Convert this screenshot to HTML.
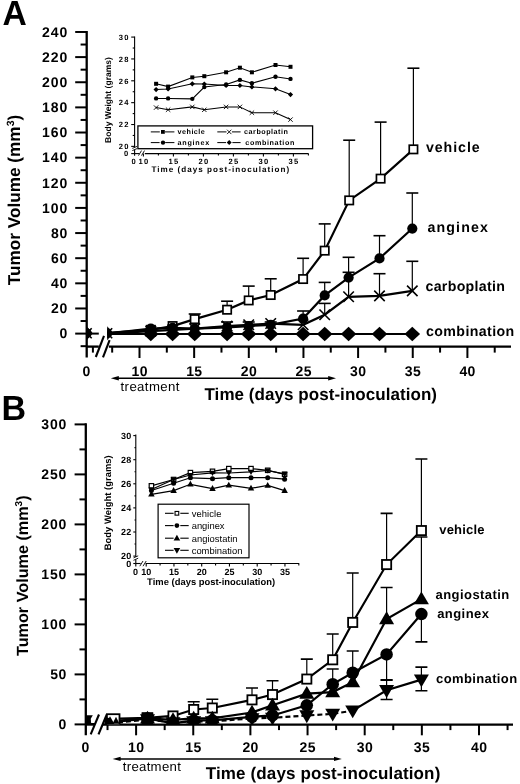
<!DOCTYPE html>
<html><head><meta charset="utf-8"><title>Tumor volume figure</title><style>html,body{margin:0;padding:0;background:#fff;}svg{display:block;}</style></head><body>
<svg width="520" height="784" viewBox="0 0 520 784" font-family="&quot;Liberation Sans&quot;, Arial, Helvetica, sans-serif" stroke="#000" stroke-linecap="butt" text-rendering="geometricPrecision">
<style>text{stroke:none;fill:#000}</style>
<defs>
<clipPath id="cA0"><rect x="86.7" y="300" width="12" height="50"/></clipPath>
<clipPath id="cA7"><rect x="107.2" y="300" width="20" height="50"/></clipPath>
<clipPath id="cB0"><rect x="85.8" y="700" width="10" height="24.6"/></clipPath>
<clipPath id="cB7"><rect x="104.5" y="690" width="20" height="34.6"/></clipPath>
<clipPath id="cBplot"><rect x="85.8" y="400" width="434" height="324.6"/></clipPath>
</defs>
<rect width="520" height="784" fill="#fff" stroke="none"/>
<text x="2.6" y="25.4" font-size="35" font-weight="bold" textLength="24.3" lengthAdjust="spacingAndGlyphs">A</text>
<line x1="86.7" y1="31" x2="86.7" y2="357.6" stroke-width="2.3"/>
<line x1="75.2" y1="333.6" x2="86.7" y2="333.6" stroke-width="2"/>
<text x="67.2" y="338.4" font-size="14" font-weight="bold" text-anchor="end">0</text>
<line x1="75.2" y1="308.46" x2="86.7" y2="308.46" stroke-width="2"/>
<text x="67.2" y="313.26" font-size="14" font-weight="bold" text-anchor="end" textLength="16.1" lengthAdjust="spacing">20</text>
<line x1="75.2" y1="283.33" x2="86.7" y2="283.33" stroke-width="2"/>
<text x="67.2" y="288.13" font-size="14" font-weight="bold" text-anchor="end" textLength="16.1" lengthAdjust="spacing">40</text>
<line x1="75.2" y1="258.19" x2="86.7" y2="258.19" stroke-width="2"/>
<text x="67.2" y="262.99" font-size="14" font-weight="bold" text-anchor="end" textLength="16.1" lengthAdjust="spacing">60</text>
<line x1="75.2" y1="233.06" x2="86.7" y2="233.06" stroke-width="2"/>
<text x="67.2" y="237.86" font-size="14" font-weight="bold" text-anchor="end" textLength="16.1" lengthAdjust="spacing">80</text>
<line x1="75.2" y1="207.92" x2="86.7" y2="207.92" stroke-width="2"/>
<text x="67.2" y="212.72" font-size="14" font-weight="bold" text-anchor="end" textLength="25.1" lengthAdjust="spacing">100</text>
<line x1="75.2" y1="182.78" x2="86.7" y2="182.78" stroke-width="2"/>
<text x="67.2" y="187.58" font-size="14" font-weight="bold" text-anchor="end" textLength="25.1" lengthAdjust="spacing">120</text>
<line x1="75.2" y1="157.65" x2="86.7" y2="157.65" stroke-width="2"/>
<text x="67.2" y="162.45" font-size="14" font-weight="bold" text-anchor="end" textLength="25.1" lengthAdjust="spacing">140</text>
<line x1="75.2" y1="132.51" x2="86.7" y2="132.51" stroke-width="2"/>
<text x="67.2" y="137.31" font-size="14" font-weight="bold" text-anchor="end" textLength="25.1" lengthAdjust="spacing">160</text>
<line x1="75.2" y1="107.38" x2="86.7" y2="107.38" stroke-width="2"/>
<text x="67.2" y="112.18" font-size="14" font-weight="bold" text-anchor="end" textLength="25.1" lengthAdjust="spacing">180</text>
<line x1="75.2" y1="82.24" x2="86.7" y2="82.24" stroke-width="2"/>
<text x="67.2" y="87.04" font-size="14" font-weight="bold" text-anchor="end" textLength="25.1" lengthAdjust="spacing">200</text>
<line x1="75.2" y1="57.1" x2="86.7" y2="57.1" stroke-width="2"/>
<text x="67.2" y="61.9" font-size="14" font-weight="bold" text-anchor="end" textLength="25.1" lengthAdjust="spacing">220</text>
<line x1="75.2" y1="31.97" x2="86.7" y2="31.97" stroke-width="2"/>
<text x="67.2" y="36.77" font-size="14" font-weight="bold" text-anchor="end" textLength="25.1" lengthAdjust="spacing">240</text>
<line x1="80.6" y1="346.17" x2="86.7" y2="346.17" stroke-width="2"/>
<line x1="80.6" y1="321.03" x2="86.7" y2="321.03" stroke-width="2"/>
<line x1="80.6" y1="295.9" x2="86.7" y2="295.9" stroke-width="2"/>
<line x1="80.6" y1="270.76" x2="86.7" y2="270.76" stroke-width="2"/>
<line x1="80.6" y1="245.62" x2="86.7" y2="245.62" stroke-width="2"/>
<line x1="80.6" y1="220.49" x2="86.7" y2="220.49" stroke-width="2"/>
<line x1="80.6" y1="195.35" x2="86.7" y2="195.35" stroke-width="2"/>
<line x1="80.6" y1="170.22" x2="86.7" y2="170.22" stroke-width="2"/>
<line x1="80.6" y1="145.08" x2="86.7" y2="145.08" stroke-width="2"/>
<line x1="80.6" y1="119.94" x2="86.7" y2="119.94" stroke-width="2"/>
<line x1="80.6" y1="94.81" x2="86.7" y2="94.81" stroke-width="2"/>
<line x1="80.6" y1="69.67" x2="86.7" y2="69.67" stroke-width="2"/>
<line x1="80.6" y1="44.54" x2="86.7" y2="44.54" stroke-width="2"/>
<line x1="86.7" y1="346.6" x2="98.8" y2="346.6" stroke-width="2.3"/>
<line x1="108.9" y1="346.6" x2="511" y2="346.6" stroke-width="2.3"/>
<line x1="139.5" y1="346.6" x2="139.5" y2="358" stroke-width="2"/>
<text x="139.5" y="376.3" font-size="14" font-weight="bold" text-anchor="middle" textLength="16" lengthAdjust="spacing">10</text>
<line x1="194.15" y1="346.6" x2="194.15" y2="358" stroke-width="2"/>
<text x="194.15" y="376.3" font-size="14" font-weight="bold" text-anchor="middle" textLength="16" lengthAdjust="spacing">15</text>
<line x1="248.8" y1="346.6" x2="248.8" y2="358" stroke-width="2"/>
<text x="248.8" y="376.3" font-size="14" font-weight="bold" text-anchor="middle" textLength="16" lengthAdjust="spacing">20</text>
<line x1="303.45" y1="346.6" x2="303.45" y2="358" stroke-width="2"/>
<text x="303.45" y="376.3" font-size="14" font-weight="bold" text-anchor="middle" textLength="16" lengthAdjust="spacing">25</text>
<line x1="358.1" y1="346.6" x2="358.1" y2="358" stroke-width="2"/>
<text x="358.1" y="376.3" font-size="14" font-weight="bold" text-anchor="middle" textLength="16" lengthAdjust="spacing">30</text>
<line x1="412.75" y1="346.6" x2="412.75" y2="358" stroke-width="2"/>
<text x="412.75" y="376.3" font-size="14" font-weight="bold" text-anchor="middle" textLength="16" lengthAdjust="spacing">35</text>
<line x1="467.4" y1="346.6" x2="467.4" y2="358" stroke-width="2"/>
<text x="467.4" y="376.3" font-size="14" font-weight="bold" text-anchor="middle" textLength="16" lengthAdjust="spacing">40</text>
<text x="86.3" y="376.3" font-size="14" font-weight="bold" text-anchor="middle">0</text>
<line x1="112.17" y1="346.6" x2="112.17" y2="352.6" stroke-width="2"/>
<line x1="166.82" y1="346.6" x2="166.82" y2="352.6" stroke-width="2"/>
<line x1="221.47" y1="346.6" x2="221.47" y2="352.6" stroke-width="2"/>
<line x1="276.12" y1="346.6" x2="276.12" y2="352.6" stroke-width="2"/>
<line x1="330.77" y1="346.6" x2="330.77" y2="352.6" stroke-width="2"/>
<line x1="385.42" y1="346.6" x2="385.42" y2="352.6" stroke-width="2"/>
<line x1="440.07" y1="346.6" x2="440.07" y2="352.6" stroke-width="2"/>
<line x1="494.72" y1="346.6" x2="494.72" y2="352.6" stroke-width="2"/>
<line x1="92.9" y1="346.6" x2="92.9" y2="352.6" stroke-width="2"/>
<line x1="95.8" y1="357" x2="104" y2="335.8" stroke-width="2.1"/>
<line x1="103" y1="357.3" x2="109.6" y2="340.2" stroke-width="2.1"/>
<line x1="116" y1="378.2" x2="331" y2="378.2" stroke-width="1.6"/>
<polygon points="110.8,378.2 118.8,376 118.8,380.4" fill="#000" stroke="none"/>
<polygon points="336,378.2 328.2,376 328.2,380.4" fill="#000" stroke="none"/>
<text x="120.5" y="391.3" font-size="13.2" font-weight="normal" textLength="59" lengthAdjust="spacing">treatment</text>
<text x="204.5" y="400" font-size="17" font-weight="bold" textLength="232.5" lengthAdjust="spacing">Time (days post-inoculation)</text>
<text transform="translate(20.4,285.2) rotate(-90)" font-size="17.2" font-weight="bold">Tumor Volume (mm<tspan font-size="10.5" dy="-6.5">3</tspan><tspan dy="6.5">)</tspan></text>
<line x1="194.7" y1="319.15" x2="194.7" y2="314" stroke-width="1.2"/>
<line x1="188.7" y1="314" x2="200.7" y2="314" stroke-width="1.6"/>
<line x1="227.1" y1="309.72" x2="227.1" y2="301.2" stroke-width="1.2"/>
<line x1="221.1" y1="301.2" x2="233.1" y2="301.2" stroke-width="1.6"/>
<line x1="227.1" y1="326.06" x2="227.1" y2="322" stroke-width="1.2"/>
<line x1="221.1" y1="322" x2="233.1" y2="322" stroke-width="1.6"/>
<line x1="248.7" y1="300.42" x2="248.7" y2="286.1" stroke-width="1.2"/>
<line x1="242.7" y1="286.1" x2="254.7" y2="286.1" stroke-width="1.6"/>
<line x1="248.7" y1="324.8" x2="248.7" y2="322" stroke-width="1.2"/>
<line x1="242.7" y1="322" x2="254.7" y2="322" stroke-width="1.6"/>
<line x1="270.7" y1="295.02" x2="270.7" y2="278.8" stroke-width="1.2"/>
<line x1="264.7" y1="278.8" x2="276.7" y2="278.8" stroke-width="1.6"/>
<line x1="270.7" y1="323.55" x2="270.7" y2="322" stroke-width="1.2"/>
<line x1="264.7" y1="322" x2="276.7" y2="322" stroke-width="1.6"/>
<line x1="303.1" y1="279.05" x2="303.1" y2="258.3" stroke-width="1.2"/>
<line x1="297.1" y1="258.3" x2="309.1" y2="258.3" stroke-width="1.6"/>
<line x1="303.1" y1="318.52" x2="303.1" y2="311" stroke-width="1.2"/>
<line x1="297.1" y1="311" x2="309.1" y2="311" stroke-width="1.6"/>
<line x1="324.7" y1="250.65" x2="324.7" y2="223.9" stroke-width="1.2"/>
<line x1="318.7" y1="223.9" x2="330.7" y2="223.9" stroke-width="1.6"/>
<line x1="324.7" y1="295.39" x2="324.7" y2="282.4" stroke-width="1.2"/>
<line x1="318.7" y1="282.4" x2="330.7" y2="282.4" stroke-width="1.6"/>
<line x1="324.7" y1="314.75" x2="324.7" y2="303.4" stroke-width="1.2"/>
<line x1="318.7" y1="303.4" x2="330.7" y2="303.4" stroke-width="1.6"/>
<line x1="349.2" y1="200.38" x2="349.2" y2="140.2" stroke-width="1.2"/>
<line x1="343.2" y1="140.2" x2="355.2" y2="140.2" stroke-width="1.6"/>
<line x1="348.6" y1="277.55" x2="348.6" y2="257.3" stroke-width="1.2"/>
<line x1="342.6" y1="257.3" x2="354.6" y2="257.3" stroke-width="1.6"/>
<line x1="348.6" y1="296.78" x2="348.6" y2="272.3" stroke-width="1.2"/>
<line x1="342.6" y1="272.3" x2="354.6" y2="272.3" stroke-width="1.6"/>
<line x1="380.6" y1="178.64" x2="380.6" y2="122.1" stroke-width="1.2"/>
<line x1="374.6" y1="122.1" x2="386.6" y2="122.1" stroke-width="1.6"/>
<line x1="379.5" y1="258.44" x2="379.5" y2="235.7" stroke-width="1.2"/>
<line x1="373.5" y1="235.7" x2="385.5" y2="235.7" stroke-width="1.6"/>
<line x1="379.5" y1="295.9" x2="379.5" y2="273.7" stroke-width="1.2"/>
<line x1="373.5" y1="273.7" x2="385.5" y2="273.7" stroke-width="1.6"/>
<line x1="413.4" y1="149.35" x2="413.4" y2="68.2" stroke-width="1.2"/>
<line x1="407.4" y1="68.2" x2="419.4" y2="68.2" stroke-width="1.6"/>
<line x1="412.3" y1="228.53" x2="412.3" y2="193" stroke-width="1.2"/>
<line x1="406.3" y1="193" x2="418.3" y2="193" stroke-width="1.6"/>
<line x1="412.3" y1="290.87" x2="412.3" y2="261.3" stroke-width="1.2"/>
<line x1="406.3" y1="261.3" x2="418.3" y2="261.3" stroke-width="1.6"/>
<line x1="86.7" y1="333.6" x2="98.8" y2="333.6" stroke-width="2"/>
<polyline points="107.2,332.97 150.8,329.83 172.6,326.06 194.7,319.15 227.1,309.72 248.7,300.42 270.7,295.02 303.1,279.05 324.7,250.65 349.2,200.38 380.6,178.64 413.4,149.35" fill="none" stroke-width="2.2"/>
<rect x="146.65" y="325.68" width="8.3" height="8.3" fill="#fff" stroke-width="1.7"/>
<rect x="168.45" y="321.91" width="8.3" height="8.3" fill="#fff" stroke-width="1.7"/>
<rect x="190.55" y="315" width="8.3" height="8.3" fill="#fff" stroke-width="1.7"/>
<rect x="222.95" y="305.57" width="8.3" height="8.3" fill="#fff" stroke-width="1.7"/>
<rect x="244.55" y="296.27" width="8.3" height="8.3" fill="#fff" stroke-width="1.7"/>
<rect x="266.55" y="290.87" width="8.3" height="8.3" fill="#fff" stroke-width="1.7"/>
<rect x="298.95" y="274.9" width="8.3" height="8.3" fill="#fff" stroke-width="1.7"/>
<rect x="320.55" y="246.5" width="8.3" height="8.3" fill="#fff" stroke-width="1.7"/>
<rect x="345.05" y="196.23" width="8.3" height="8.3" fill="#fff" stroke-width="1.7"/>
<rect x="376.45" y="174.49" width="8.3" height="8.3" fill="#fff" stroke-width="1.7"/>
<rect x="409.25" y="145.2" width="8.3" height="8.3" fill="#fff" stroke-width="1.7"/>
<polyline points="107.2,333.6 150.8,328.57 172.6,327.94 194.7,328.57 227.1,327.32 248.7,326.06 270.7,324.8 303.1,318.52 324.7,295.39 348.6,277.55 379.5,258.44 412.3,228.53" fill="none" stroke-width="2.2"/>
<circle cx="150.8" cy="328.57" r="5.1" fill="#000" stroke="none"/>
<circle cx="172.6" cy="327.94" r="5.1" fill="#000" stroke="none"/>
<circle cx="194.7" cy="328.57" r="5.1" fill="#000" stroke="none"/>
<circle cx="227.1" cy="327.32" r="5.1" fill="#000" stroke="none"/>
<circle cx="248.7" cy="326.06" r="5.1" fill="#000" stroke="none"/>
<circle cx="270.7" cy="324.8" r="5.1" fill="#000" stroke="none"/>
<circle cx="303.1" cy="318.52" r="5.1" fill="#000" stroke="none"/>
<circle cx="324.7" cy="295.39" r="5.1" fill="#000" stroke="none"/>
<circle cx="348.6" cy="277.55" r="5.1" fill="#000" stroke="none"/>
<circle cx="379.5" cy="258.44" r="5.1" fill="#000" stroke="none"/>
<circle cx="412.3" cy="228.53" r="5.1" fill="#000" stroke="none"/>
<polyline points="107.2,333.6 150.8,331.09 172.6,329.83 194.7,328.57 227.1,326.06 248.7,324.8 270.7,323.55 303.1,324.8 324.7,314.75 348.6,296.78 379.5,295.9 412.3,290.87" fill="none" stroke-width="2.2"/>
<path d="M145.55,325.84L156.05,336.34M145.55,336.34L156.05,325.84" stroke-width="1.6" fill="none"/>
<path d="M167.35,324.58L177.85,335.08M167.35,335.08L177.85,324.58" stroke-width="1.6" fill="none"/>
<path d="M189.45,323.32L199.95,333.82M189.45,333.82L199.95,323.32" stroke-width="1.6" fill="none"/>
<path d="M221.85,320.81L232.35,331.31M221.85,331.31L232.35,320.81" stroke-width="1.6" fill="none"/>
<path d="M243.45,319.55L253.95,330.05M243.45,330.05L253.95,319.55" stroke-width="1.6" fill="none"/>
<path d="M265.45,318.3L275.95,328.8M265.45,328.8L275.95,318.3" stroke-width="1.6" fill="none"/>
<path d="M297.85,319.55L308.35,330.05M297.85,330.05L308.35,319.55" stroke-width="1.6" fill="none"/>
<path d="M319.45,309.5L329.95,320M319.45,320L329.95,309.5" stroke-width="1.6" fill="none"/>
<path d="M343.35,291.53L353.85,302.03M343.35,302.03L353.85,291.53" stroke-width="1.6" fill="none"/>
<path d="M374.25,290.65L384.75,301.15M374.25,301.15L384.75,290.65" stroke-width="1.6" fill="none"/>
<path d="M407.05,285.62L417.55,296.12M407.05,296.12L417.55,285.62" stroke-width="1.6" fill="none"/>
<polyline points="107.2,333.98 150.8,333.98 172.6,333.98 194.7,333.98 227.1,333.98 248.7,333.98 270.7,333.98 303.1,333.98 324.7,333.98 348.6,333.98 379.5,333.98 412.3,333.98" fill="none" stroke-width="2.2"/>
<polygon points="150.8,326.73 158.55,333.98 150.8,341.23 143.05,333.98" fill="#000" stroke="none"/>
<polygon points="172.6,326.73 180.35,333.98 172.6,341.23 164.85,333.98" fill="#000" stroke="none"/>
<polygon points="194.7,326.73 202.45,333.98 194.7,341.23 186.95,333.98" fill="#000" stroke="none"/>
<polygon points="227.1,326.73 234.85,333.98 227.1,341.23 219.35,333.98" fill="#000" stroke="none"/>
<polygon points="248.7,326.73 256.45,333.98 248.7,341.23 240.95,333.98" fill="#000" stroke="none"/>
<polygon points="270.7,326.73 278.45,333.98 270.7,341.23 262.95,333.98" fill="#000" stroke="none"/>
<polygon points="303.1,326.73 310.85,333.98 303.1,341.23 295.35,333.98" fill="#000" stroke="none"/>
<polygon points="324.7,326.73 332.45,333.98 324.7,341.23 316.95,333.98" fill="#000" stroke="none"/>
<polygon points="348.6,326.73 356.35,333.98 348.6,341.23 340.85,333.98" fill="#000" stroke="none"/>
<polygon points="379.5,326.73 387.25,333.98 379.5,341.23 371.75,333.98" fill="#000" stroke="none"/>
<polygon points="412.3,326.73 420.05,333.98 412.3,341.23 404.55,333.98" fill="#000" stroke="none"/>
<g clip-path="url(#cA0)">
<polygon points="86.7,326.22 92.7,333.22 86.7,340.22 80.7,333.22" fill="#000" stroke="none"/>
<circle cx="86.7" cy="333.22" r="5" fill="#000" stroke="none"/>
<path d="M81.7,328.22L91.7,338.22M81.7,338.22L91.7,328.22" stroke-width="1.6" fill="none"/>
</g>
<g clip-path="url(#cA7)">
<polygon points="107.2,326.22 113.2,333.22 107.2,340.22 101.2,333.22" fill="#000" stroke="none"/>
<circle cx="107.2" cy="333.22" r="5" fill="#000" stroke="none"/>
<path d="M102.2,328.22L112.2,338.22M102.2,338.22L112.2,328.22" stroke-width="1.6" fill="none"/>
</g>
<text x="425.9" y="152.2" font-size="14.2" font-weight="bold" textLength="53.8" lengthAdjust="spacing">vehicle</text>
<text x="427.6" y="231.6" font-size="14.2" font-weight="bold" textLength="60.2" lengthAdjust="spacing">anginex</text>
<text x="425.5" y="291.4" font-size="14.2" font-weight="bold" textLength="79.4" lengthAdjust="spacing">carboplatin</text>
<text x="426" y="335.8" font-size="14.2" font-weight="bold" textLength="88.2" lengthAdjust="spacing">combination</text>
<line x1="134.6" y1="36.5" x2="134.6" y2="147.3" stroke-width="1.1"/>
<line x1="134.6" y1="149.8" x2="134.6" y2="155.8" stroke-width="1.1"/>
<line x1="131.2" y1="146.38" x2="134.6" y2="146.38" stroke-width="1.1"/>
<text x="128.6" y="149.08" font-size="7.6" font-weight="bold" text-anchor="end" textLength="9.8" lengthAdjust="spacing">20</text>
<line x1="131.2" y1="124.52" x2="134.6" y2="124.52" stroke-width="1.1"/>
<text x="128.6" y="127.22" font-size="7.6" font-weight="bold" text-anchor="end" textLength="9.8" lengthAdjust="spacing">22</text>
<line x1="131.2" y1="102.66" x2="134.6" y2="102.66" stroke-width="1.1"/>
<text x="128.6" y="105.36" font-size="7.6" font-weight="bold" text-anchor="end" textLength="9.8" lengthAdjust="spacing">24</text>
<line x1="131.2" y1="80.8" x2="134.6" y2="80.8" stroke-width="1.1"/>
<text x="128.6" y="83.5" font-size="7.6" font-weight="bold" text-anchor="end" textLength="9.8" lengthAdjust="spacing">26</text>
<line x1="131.2" y1="58.94" x2="134.6" y2="58.94" stroke-width="1.1"/>
<text x="128.6" y="61.64" font-size="7.6" font-weight="bold" text-anchor="end" textLength="9.8" lengthAdjust="spacing">28</text>
<line x1="131.2" y1="37.08" x2="134.6" y2="37.08" stroke-width="1.1"/>
<text x="128.6" y="39.78" font-size="7.6" font-weight="bold" text-anchor="end" textLength="9.8" lengthAdjust="spacing">30</text>
<line x1="132.7" y1="135.45" x2="134.6" y2="135.45" stroke-width="1.1"/>
<line x1="132.7" y1="113.59" x2="134.6" y2="113.59" stroke-width="1.1"/>
<line x1="132.7" y1="91.73" x2="134.6" y2="91.73" stroke-width="1.1"/>
<line x1="132.7" y1="69.87" x2="134.6" y2="69.87" stroke-width="1.1"/>
<line x1="132.7" y1="48.01" x2="134.6" y2="48.01" stroke-width="1.1"/>
<line x1="132.3" y1="148.4" x2="137" y2="146.4" stroke-width="0.9"/>
<line x1="132.3" y1="150.6" x2="137" y2="148.6" stroke-width="0.9"/>
<line x1="131.2" y1="153.6" x2="134.6" y2="153.6" stroke-width="1.1"/>
<text x="128.2" y="156.3" font-size="7.6" font-weight="bold" text-anchor="end">0</text>
<line x1="134.6" y1="153.6" x2="139.5" y2="153.6" stroke-width="1.1"/>
<line x1="144.8" y1="153.6" x2="308.5" y2="153.6" stroke-width="1.1"/>
<line x1="138.5" y1="155.6" x2="141.5" y2="150.6" stroke-width="0.9"/>
<line x1="141.5" y1="155.6" x2="144.5" y2="150.6" stroke-width="0.9"/>
<line x1="143.4" y1="153.6" x2="143.4" y2="156.6" stroke-width="1.1"/>
<line x1="173.4" y1="153.6" x2="173.4" y2="156.6" stroke-width="1.1"/>
<line x1="203.4" y1="153.6" x2="203.4" y2="156.6" stroke-width="1.1"/>
<line x1="233.4" y1="153.6" x2="233.4" y2="156.6" stroke-width="1.1"/>
<line x1="263.4" y1="153.6" x2="263.4" y2="156.6" stroke-width="1.1"/>
<line x1="293.4" y1="153.6" x2="293.4" y2="156.6" stroke-width="1.1"/>
<line x1="158.4" y1="153.6" x2="158.4" y2="155.6" stroke-width="1.1"/>
<line x1="188.4" y1="153.6" x2="188.4" y2="155.6" stroke-width="1.1"/>
<line x1="218.4" y1="153.6" x2="218.4" y2="155.6" stroke-width="1.1"/>
<line x1="248.4" y1="153.6" x2="248.4" y2="155.6" stroke-width="1.1"/>
<line x1="278.4" y1="153.6" x2="278.4" y2="155.6" stroke-width="1.1"/>
<line x1="308.4" y1="153.6" x2="308.4" y2="155.6" stroke-width="1.1"/>
<text x="133.5" y="163.8" font-size="7.6" font-weight="bold" text-anchor="middle">0</text>
<text x="143.4" y="163.8" font-size="7.6" font-weight="bold" text-anchor="middle" textLength="9.8" lengthAdjust="spacing">10</text>
<text x="173.4" y="163.8" font-size="7.6" font-weight="bold" text-anchor="middle" textLength="9.8" lengthAdjust="spacing">15</text>
<text x="203.4" y="163.8" font-size="7.6" font-weight="bold" text-anchor="middle" textLength="9.8" lengthAdjust="spacing">20</text>
<text x="233.4" y="163.8" font-size="7.6" font-weight="bold" text-anchor="middle" textLength="9.8" lengthAdjust="spacing">25</text>
<text x="263.4" y="163.8" font-size="7.6" font-weight="bold" text-anchor="middle" textLength="9.8" lengthAdjust="spacing">30</text>
<text x="293.4" y="163.8" font-size="7.6" font-weight="bold" text-anchor="middle" textLength="9.8" lengthAdjust="spacing">35</text>
<text x="151.4" y="172" font-size="8.1" font-weight="bold" textLength="137.8" lengthAdjust="spacing">Time (days post-inoculation)</text>
<text transform="translate(111.4,142.9) rotate(-90)" font-size="8.5" font-weight="bold" textLength="85.8" lengthAdjust="spacing">Body Weight (grams)</text>
<polyline points="156.1,83.8 168.1,86.6 192.3,77.4 204.3,76.2 226.1,72.3 239.9,67.7 251.9,72.3 275.5,65 290.5,66.8" fill="none" stroke-width="1.05"/>
<polyline points="156.1,89.6 168.1,88.9 192.3,83.8 204.3,84 226.1,85.5 239.9,85.5 251.9,86.9 275.5,88.8 290.5,94.6" fill="none" stroke-width="1.05"/>
<polyline points="156.1,98.4 168.1,98.4 192.3,98.85 204.3,87.1 226.1,84.5 239.9,79.9 251.9,83.2 275.5,76.7 290.5,78.9" fill="none" stroke-width="1.05"/>
<polyline points="156.1,107.6 168.1,109.7 192.3,106.9 204.3,109.8 226.1,106.9 239.9,106.9 251.9,112.7 275.5,112.7 290.5,119.6" fill="none" stroke-width="1.05"/>
<rect x="154.1" y="81.8" width="4" height="4" fill="#000" stroke="none"/>
<rect x="166.1" y="84.6" width="4" height="4" fill="#000" stroke="none"/>
<rect x="190.3" y="75.4" width="4" height="4" fill="#000" stroke="none"/>
<rect x="202.3" y="74.2" width="4" height="4" fill="#000" stroke="none"/>
<rect x="224.1" y="70.3" width="4" height="4" fill="#000" stroke="none"/>
<rect x="237.9" y="65.7" width="4" height="4" fill="#000" stroke="none"/>
<rect x="249.9" y="70.3" width="4" height="4" fill="#000" stroke="none"/>
<rect x="273.5" y="63" width="4" height="4" fill="#000" stroke="none"/>
<rect x="288.5" y="64.8" width="4" height="4" fill="#000" stroke="none"/>
<polygon points="156.1,87 158.7,89.6 156.1,92.2 153.5,89.6" fill="#000" stroke="none"/>
<polygon points="168.1,86.3 170.7,88.9 168.1,91.5 165.5,88.9" fill="#000" stroke="none"/>
<polygon points="192.3,81.2 194.9,83.8 192.3,86.4 189.7,83.8" fill="#000" stroke="none"/>
<polygon points="204.3,81.4 206.9,84 204.3,86.6 201.7,84" fill="#000" stroke="none"/>
<polygon points="226.1,82.9 228.7,85.5 226.1,88.1 223.5,85.5" fill="#000" stroke="none"/>
<polygon points="239.9,82.9 242.5,85.5 239.9,88.1 237.3,85.5" fill="#000" stroke="none"/>
<polygon points="251.9,84.3 254.5,86.9 251.9,89.5 249.3,86.9" fill="#000" stroke="none"/>
<polygon points="275.5,86.2 278.1,88.8 275.5,91.4 272.9,88.8" fill="#000" stroke="none"/>
<polygon points="290.5,92 293.1,94.6 290.5,97.2 287.9,94.6" fill="#000" stroke="none"/>
<circle cx="156.1" cy="98.4" r="2.2" fill="#000" stroke="none"/>
<circle cx="168.1" cy="98.4" r="2.2" fill="#000" stroke="none"/>
<circle cx="192.3" cy="98.85" r="2.2" fill="#000" stroke="none"/>
<circle cx="204.3" cy="87.1" r="2.2" fill="#000" stroke="none"/>
<circle cx="226.1" cy="84.5" r="2.2" fill="#000" stroke="none"/>
<circle cx="239.9" cy="79.9" r="2.2" fill="#000" stroke="none"/>
<circle cx="251.9" cy="83.2" r="2.2" fill="#000" stroke="none"/>
<circle cx="275.5" cy="76.7" r="2.2" fill="#000" stroke="none"/>
<circle cx="290.5" cy="78.9" r="2.2" fill="#000" stroke="none"/>
<path d="M153.9,105.4L158.3,109.8M153.9,109.8L158.3,105.4" stroke-width="0.9" fill="none"/>
<path d="M165.9,107.5L170.3,111.9M165.9,111.9L170.3,107.5" stroke-width="0.9" fill="none"/>
<path d="M190.1,104.7L194.5,109.1M190.1,109.1L194.5,104.7" stroke-width="0.9" fill="none"/>
<path d="M202.1,107.6L206.5,112M202.1,112L206.5,107.6" stroke-width="0.9" fill="none"/>
<path d="M223.9,104.7L228.3,109.1M223.9,109.1L228.3,104.7" stroke-width="0.9" fill="none"/>
<path d="M237.7,104.7L242.1,109.1M237.7,109.1L242.1,104.7" stroke-width="0.9" fill="none"/>
<path d="M249.7,110.5L254.1,114.9M249.7,114.9L254.1,110.5" stroke-width="0.9" fill="none"/>
<path d="M273.3,110.5L277.7,114.9M273.3,114.9L277.7,110.5" stroke-width="0.9" fill="none"/>
<path d="M288.3,117.4L292.7,121.8M288.3,121.8L292.7,117.4" stroke-width="0.9" fill="none"/>
<rect x="137.9" y="125.9" width="174.7" height="22.8" fill="#fff" stroke-width="1.3"/>
<line x1="150.8" y1="131.9" x2="159.8" y2="131.9" stroke-width="1"/>
<line x1="165" y1="131.9" x2="174.4" y2="131.9" stroke-width="1"/>
<rect x="161" y="130" width="3.8" height="3.8" fill="#000" stroke="none"/>
<text x="177.6" y="134.4" font-size="7.2" font-weight="bold" textLength="27.2" lengthAdjust="spacing">vehicle</text>
<line x1="150.8" y1="142.6" x2="159.6" y2="142.6" stroke-width="1"/>
<line x1="165.2" y1="142.6" x2="174.4" y2="142.6" stroke-width="1"/>
<circle cx="163" cy="142.6" r="2.2" fill="#000" stroke="none"/>
<text x="177.6" y="145" font-size="7.2" font-weight="bold" textLength="31.6" lengthAdjust="spacing">anginex</text>
<line x1="217.3" y1="131.9" x2="226.5" y2="131.9" stroke-width="1"/>
<line x1="231.9" y1="131.9" x2="240.6" y2="131.9" stroke-width="1"/>
<path d="M227,129.7L231.4,134.1M227,134.1L231.4,129.7" stroke-width="0.9" fill="none"/>
<text x="244.1" y="134.4" font-size="7.2" font-weight="bold" textLength="43.8" lengthAdjust="spacing">carboplatin</text>
<line x1="217.3" y1="142.6" x2="226" y2="142.6" stroke-width="1"/>
<line x1="232.4" y1="142.6" x2="240.6" y2="142.6" stroke-width="1"/>
<polygon points="229.2,140.1 231.7,142.6 229.2,145.1 226.7,142.6" fill="#000" stroke="none"/>
<text x="245.3" y="145" font-size="7.2" font-weight="bold" textLength="49" lengthAdjust="spacing">combination</text>
<text x="1.4" y="419.6" font-size="35" font-weight="bold" textLength="24.6" lengthAdjust="spacingAndGlyphs">B</text>
<line x1="85.8" y1="423.3" x2="85.8" y2="735.2" stroke-width="2.3"/>
<line x1="74.6" y1="724.4" x2="85.8" y2="724.4" stroke-width="2"/>
<text x="66.4" y="729.2" font-size="14" font-weight="bold" text-anchor="end">0</text>
<line x1="74.6" y1="674.4" x2="85.8" y2="674.4" stroke-width="2"/>
<text x="66.4" y="679.2" font-size="14" font-weight="bold" text-anchor="end" textLength="16.1" lengthAdjust="spacing">50</text>
<line x1="74.6" y1="624.4" x2="85.8" y2="624.4" stroke-width="2"/>
<text x="66.4" y="629.2" font-size="14" font-weight="bold" text-anchor="end" textLength="25.1" lengthAdjust="spacing">100</text>
<line x1="74.6" y1="574.4" x2="85.8" y2="574.4" stroke-width="2"/>
<text x="66.4" y="579.2" font-size="14" font-weight="bold" text-anchor="end" textLength="25.1" lengthAdjust="spacing">150</text>
<line x1="74.6" y1="524.4" x2="85.8" y2="524.4" stroke-width="2"/>
<text x="66.4" y="529.2" font-size="14" font-weight="bold" text-anchor="end" textLength="25.1" lengthAdjust="spacing">200</text>
<line x1="74.6" y1="474.4" x2="85.8" y2="474.4" stroke-width="2"/>
<text x="66.4" y="479.2" font-size="14" font-weight="bold" text-anchor="end" textLength="25.1" lengthAdjust="spacing">250</text>
<line x1="74.6" y1="424.4" x2="85.8" y2="424.4" stroke-width="2"/>
<text x="66.4" y="429.2" font-size="14" font-weight="bold" text-anchor="end" textLength="25.1" lengthAdjust="spacing">300</text>
<line x1="79.5" y1="699.4" x2="85.8" y2="699.4" stroke-width="2"/>
<line x1="79.5" y1="649.4" x2="85.8" y2="649.4" stroke-width="2"/>
<line x1="79.5" y1="599.4" x2="85.8" y2="599.4" stroke-width="2"/>
<line x1="79.5" y1="549.4" x2="85.8" y2="549.4" stroke-width="2"/>
<line x1="79.5" y1="499.4" x2="85.8" y2="499.4" stroke-width="2"/>
<line x1="79.5" y1="449.4" x2="85.8" y2="449.4" stroke-width="2"/>
<line x1="85.8" y1="724.6" x2="94.8" y2="724.6" stroke-width="2.2"/>
<line x1="102.6" y1="724.6" x2="513" y2="724.6" stroke-width="2.2"/>
<line x1="136.1" y1="724.6" x2="136.1" y2="735.3" stroke-width="2"/>
<text x="136.1" y="752.2" font-size="14" font-weight="bold" text-anchor="middle" textLength="16" lengthAdjust="spacing">10</text>
<line x1="193.25" y1="724.6" x2="193.25" y2="735.3" stroke-width="2"/>
<text x="193.25" y="752.2" font-size="14" font-weight="bold" text-anchor="middle" textLength="16" lengthAdjust="spacing">15</text>
<line x1="250.4" y1="724.6" x2="250.4" y2="735.3" stroke-width="2"/>
<text x="250.4" y="752.2" font-size="14" font-weight="bold" text-anchor="middle" textLength="16" lengthAdjust="spacing">20</text>
<line x1="307.55" y1="724.6" x2="307.55" y2="735.3" stroke-width="2"/>
<text x="307.55" y="752.2" font-size="14" font-weight="bold" text-anchor="middle" textLength="16" lengthAdjust="spacing">25</text>
<line x1="364.7" y1="724.6" x2="364.7" y2="735.3" stroke-width="2"/>
<text x="364.7" y="752.2" font-size="14" font-weight="bold" text-anchor="middle" textLength="16" lengthAdjust="spacing">30</text>
<line x1="421.85" y1="724.6" x2="421.85" y2="735.3" stroke-width="2"/>
<text x="421.85" y="752.2" font-size="14" font-weight="bold" text-anchor="middle" textLength="16" lengthAdjust="spacing">35</text>
<line x1="479" y1="724.6" x2="479" y2="735.3" stroke-width="2"/>
<text x="479" y="752.2" font-size="14" font-weight="bold" text-anchor="middle" textLength="16" lengthAdjust="spacing">40</text>
<text x="85.3" y="752.2" font-size="14" font-weight="bold" text-anchor="middle">0</text>
<line x1="107.52" y1="724.6" x2="107.52" y2="730.1" stroke-width="2"/>
<line x1="164.67" y1="724.6" x2="164.67" y2="730.1" stroke-width="2"/>
<line x1="221.82" y1="724.6" x2="221.82" y2="730.1" stroke-width="2"/>
<line x1="278.98" y1="724.6" x2="278.98" y2="730.1" stroke-width="2"/>
<line x1="336.12" y1="724.6" x2="336.12" y2="730.1" stroke-width="2"/>
<line x1="393.27" y1="724.6" x2="393.27" y2="730.1" stroke-width="2"/>
<line x1="450.42" y1="724.6" x2="450.42" y2="730.1" stroke-width="2"/>
<line x1="507.57" y1="724.6" x2="507.57" y2="730.1" stroke-width="2"/>
<line x1="90.7" y1="734.4" x2="99" y2="714.5" stroke-width="2.1"/>
<line x1="98.5" y1="734.4" x2="106.8" y2="714.5" stroke-width="2.1"/>
<line x1="118" y1="758.9" x2="336" y2="758.9" stroke-width="1.5"/>
<polygon points="112.6,758.9 120.6,756.8 120.6,761" fill="#000" stroke="none"/>
<polygon points="341.8,758.9 334,756.8 334,761" fill="#000" stroke="none"/>
<text x="122.8" y="770.8" font-size="13.2" font-weight="normal" textLength="58" lengthAdjust="spacing">treatment</text>
<text x="205.8" y="778.8" font-size="17" font-weight="bold" textLength="234.5" lengthAdjust="spacing">Time (days post-inoculation)</text>
<text transform="translate(28.1,656) rotate(-90)" font-size="16.2" font-weight="bold">Tumor Volume (mm<tspan font-size="10" dy="-6.2">3</tspan><tspan dy="6.2">)</tspan></text>
<g clip-path="url(#cBplot)">
<line x1="193.7" y1="709.49" x2="193.7" y2="701.7" stroke-width="1.2"/>
<line x1="187.7" y1="701.7" x2="199.7" y2="701.7" stroke-width="1.6"/>
<line x1="212.3" y1="708" x2="212.3" y2="699.2" stroke-width="1.2"/>
<line x1="206.3" y1="699.2" x2="218.3" y2="699.2" stroke-width="1.6"/>
<line x1="252" y1="699.85" x2="252" y2="688" stroke-width="1.2"/>
<line x1="246" y1="688" x2="258" y2="688" stroke-width="1.6"/>
<line x1="272.5" y1="694.58" x2="272.5" y2="680.8" stroke-width="1.2"/>
<line x1="266.5" y1="680.8" x2="278.5" y2="680.8" stroke-width="1.6"/>
<line x1="306.8" y1="679.07" x2="306.8" y2="659.1" stroke-width="1.2"/>
<line x1="300.8" y1="659.1" x2="312.8" y2="659.1" stroke-width="1.6"/>
<line x1="332.7" y1="659.79" x2="332.7" y2="634" stroke-width="1.2"/>
<line x1="326.7" y1="634" x2="338.7" y2="634" stroke-width="1.6"/>
<line x1="332.7" y1="684.14" x2="332.7" y2="669" stroke-width="1.2"/>
<line x1="326.7" y1="669" x2="338.7" y2="669" stroke-width="1.6"/>
<line x1="352.7" y1="622.42" x2="352.7" y2="573" stroke-width="1.2"/>
<line x1="346.7" y1="573" x2="358.7" y2="573" stroke-width="1.6"/>
<line x1="352.7" y1="672.71" x2="352.7" y2="651" stroke-width="1.2"/>
<line x1="346.7" y1="651" x2="358.7" y2="651" stroke-width="1.6"/>
<line x1="386.6" y1="564.56" x2="386.6" y2="513.4" stroke-width="1.2"/>
<line x1="380.6" y1="513.4" x2="392.6" y2="513.4" stroke-width="1.6"/>
<line x1="386.6" y1="619.04" x2="386.6" y2="587.5" stroke-width="1.2"/>
<line x1="380.6" y1="587.5" x2="392.6" y2="587.5" stroke-width="1.6"/>
<line x1="386.6" y1="654.42" x2="386.6" y2="679.8" stroke-width="1.2"/>
<line x1="380.6" y1="679.8" x2="392.6" y2="679.8" stroke-width="1.6"/>
<line x1="386.6" y1="690.21" x2="386.6" y2="680.2" stroke-width="1.2"/>
<line x1="380.6" y1="680.2" x2="392.6" y2="680.2" stroke-width="1.6"/>
<line x1="386.6" y1="690.21" x2="386.6" y2="699.5" stroke-width="1.2"/>
<line x1="380.6" y1="699.5" x2="392.6" y2="699.5" stroke-width="1.6"/>
<line x1="421.4" y1="530.57" x2="421.4" y2="459" stroke-width="1.2"/>
<line x1="415.4" y1="459" x2="427.4" y2="459" stroke-width="1.6"/>
<line x1="421.4" y1="599.16" x2="421.4" y2="537" stroke-width="1.2"/>
<line x1="415.4" y1="537" x2="427.4" y2="537" stroke-width="1.6"/>
<line x1="421.4" y1="614.07" x2="421.4" y2="641.9" stroke-width="1.2"/>
<line x1="415.4" y1="641.9" x2="427.4" y2="641.9" stroke-width="1.6"/>
<line x1="421.4" y1="679.67" x2="421.4" y2="667.1" stroke-width="1.2"/>
<line x1="415.4" y1="667.1" x2="427.4" y2="667.1" stroke-width="1.6"/>
<line x1="421.4" y1="679.67" x2="421.4" y2="690.7" stroke-width="1.2"/>
<line x1="415.4" y1="690.7" x2="427.4" y2="690.7" stroke-width="1.6"/>
<line x1="85.8" y1="724.4" x2="94.8" y2="724.4" stroke-width="2.2"/>
<polyline points="110,718.93 147.5,717.94 173,715.95 193.7,709.49 212.3,708 252,699.85 272.5,694.58 306.8,679.07 332.7,659.79 352.7,622.42 386.6,564.56 421.4,530.57" fill="none" stroke-width="2.2"/>
<rect x="142.9" y="713.34" width="9.2" height="9.2" fill="#fff" stroke-width="1.8"/>
<rect x="168.4" y="711.35" width="9.2" height="9.2" fill="#fff" stroke-width="1.8"/>
<rect x="189.1" y="704.89" width="9.2" height="9.2" fill="#fff" stroke-width="1.8"/>
<rect x="207.7" y="703.4" width="9.2" height="9.2" fill="#fff" stroke-width="1.8"/>
<rect x="247.4" y="695.25" width="9.2" height="9.2" fill="#fff" stroke-width="1.8"/>
<rect x="267.9" y="689.98" width="9.2" height="9.2" fill="#fff" stroke-width="1.8"/>
<rect x="302.2" y="674.47" width="9.2" height="9.2" fill="#fff" stroke-width="1.8"/>
<rect x="328.1" y="655.19" width="9.2" height="9.2" fill="#fff" stroke-width="1.8"/>
<rect x="348.1" y="617.82" width="9.2" height="9.2" fill="#fff" stroke-width="1.8"/>
<rect x="382" y="559.96" width="9.2" height="9.2" fill="#fff" stroke-width="1.8"/>
<rect x="416.8" y="525.97" width="9.2" height="9.2" fill="#fff" stroke-width="1.8"/>
<line x1="85.8" y1="724.4" x2="94.8" y2="724.4" stroke-width="2.2"/>
<polyline points="110,722.41 147.5,718.44 173,723.41 193.7,720.42 212.3,720.42 252,716.85 272.5,715.45 306.8,705.32 332.7,684.14 352.7,672.71 386.6,654.42 421.4,614.07" fill="none" stroke-width="2.2"/>
<circle cx="147.5" cy="718.44" r="6.25" fill="#000" stroke="none"/>
<circle cx="173" cy="723.41" r="6.25" fill="#000" stroke="none"/>
<circle cx="193.7" cy="720.42" r="6.25" fill="#000" stroke="none"/>
<circle cx="212.3" cy="720.42" r="6.25" fill="#000" stroke="none"/>
<circle cx="252" cy="716.85" r="6.25" fill="#000" stroke="none"/>
<circle cx="272.5" cy="715.45" r="6.25" fill="#000" stroke="none"/>
<circle cx="306.8" cy="705.32" r="6.25" fill="#000" stroke="none"/>
<circle cx="332.7" cy="684.14" r="6.25" fill="#000" stroke="none"/>
<circle cx="352.7" cy="672.71" r="6.25" fill="#000" stroke="none"/>
<circle cx="386.6" cy="654.42" r="6.25" fill="#000" stroke="none"/>
<circle cx="421.4" cy="614.07" r="6.25" fill="#000" stroke="none"/>
<line x1="85.8" y1="724.4" x2="94.8" y2="724.4" stroke-width="2.2"/>
<polyline points="110,721.42 147.5,718.44 173,719.93 193.7,718.44 212.3,718.44 252,712.47 272.5,705.32 306.8,693.59 332.7,692.1 352.7,682.15 386.6,619.04 421.4,599.16" fill="none" stroke-width="2.2"/>
<polygon points="147.5,710.76 155,723.56 140,723.56" fill="#000" stroke="none"/>
<polygon points="173,712.25 180.5,725.05 165.5,725.05" fill="#000" stroke="none"/>
<polygon points="193.7,710.76 201.2,723.56 186.2,723.56" fill="#000" stroke="none"/>
<polygon points="212.3,710.76 219.8,723.56 204.8,723.56" fill="#000" stroke="none"/>
<polygon points="252,704.79 259.5,717.59 244.5,717.59" fill="#000" stroke="none"/>
<polygon points="272.5,697.64 280,710.44 265,710.44" fill="#000" stroke="none"/>
<polygon points="306.8,685.91 314.3,698.71 299.3,698.71" fill="#000" stroke="none"/>
<polygon points="332.7,684.42 340.2,697.22 325.2,697.22" fill="#000" stroke="none"/>
<polygon points="352.7,674.48 360.2,687.27 345.2,687.27" fill="#000" stroke="none"/>
<polygon points="386.6,611.36 394.1,624.16 379.1,624.16" fill="#000" stroke="none"/>
<polygon points="421.4,591.48 428.9,604.28 413.9,604.28" fill="#000" stroke="none"/>
<line x1="85.8" y1="724.4" x2="94.8" y2="724.4" stroke-width="2.2"/>
<polyline points="110,723.41 147.5,719.43 173,722.41 193.7,721.42 212.3,721.42 252,718.44 272.5,717.84 306.8,715.45 332.7,713.86 352.7,710.68" fill="none" stroke-width="2.2" stroke-dasharray="5,3"/>
<polyline points="352.7,710.68 386.6,690.21 421.4,679.67" fill="none" stroke-width="2.2"/>
<polygon points="147.5,727.11 155,714.31 140,714.31" fill="#000" stroke="none"/>
<polygon points="173,730.09 180.5,717.29 165.5,717.29" fill="#000" stroke="none"/>
<polygon points="193.7,729.1 201.2,716.3 186.2,716.3" fill="#000" stroke="none"/>
<polygon points="212.3,729.1 219.8,716.3 204.8,716.3" fill="#000" stroke="none"/>
<polygon points="252,726.12 259.5,713.32 244.5,713.32" fill="#000" stroke="none"/>
<polygon points="272.5,725.52 280,712.72 265,712.72" fill="#000" stroke="none"/>
<polygon points="306.8,723.13 314.3,710.33 299.3,710.33" fill="#000" stroke="none"/>
<polygon points="332.7,721.54 340.2,708.74 325.2,708.74" fill="#000" stroke="none"/>
<polygon points="352.7,718.36 360.2,705.56 345.2,705.56" fill="#000" stroke="none"/>
<polygon points="386.6,697.89 394.1,685.09 379.1,685.09" fill="#000" stroke="none"/>
<polygon points="421.4,687.35 428.9,674.55 413.9,674.55" fill="#000" stroke="none"/>
<g clip-path="url(#cB0)">
<polygon points="85.8,727.2 92.8,715.2 78.8,715.2" fill="#000" stroke="none"/>
<circle cx="86.5" cy="721" r="4.5" fill="#000" stroke="none"/>
<polygon points="85.8,715 92.8,725 78.8,725" fill="#000" stroke="none"/>
</g>
<g clip-path="url(#cB7)">
<rect x="106.9" y="714.2" width="12.6" height="11" fill="#fff" stroke-width="1.8"/>
<polygon points="110,716.2 114.5,724.2 105.5,724.2" fill="#000" stroke="none"/>
<polygon points="116,716.8 119.5,723.8 112.5,723.8" fill="#000" stroke="none"/>
<circle cx="106.5" cy="721.5" r="4" fill="#000" stroke="none"/>
</g>
<rect x="141.5" y="712.4" width="11.8" height="12.4" fill="#000" stroke="none"/>
</g>
<text x="439.2" y="534.1" font-size="13" font-weight="bold" textLength="45.3" lengthAdjust="spacing">vehicle</text>
<text x="435.6" y="599.4" font-size="13" font-weight="bold" textLength="73.6" lengthAdjust="spacing">angiostatin</text>
<text x="437.2" y="617.5" font-size="13" font-weight="bold" textLength="51.7" lengthAdjust="spacing">anginex</text>
<text x="436.1" y="683.4" font-size="13" font-weight="bold" textLength="81" lengthAdjust="spacing">combination</text>
<line x1="135.8" y1="434.5" x2="135.8" y2="556.8" stroke-width="1.1"/>
<line x1="135.8" y1="559.4" x2="135.8" y2="566.5" stroke-width="1.1"/>
<line x1="133.3" y1="556.1" x2="135.8" y2="556.1" stroke-width="1.1"/>
<text x="131.2" y="559.3" font-size="9" font-weight="bold" text-anchor="end" textLength="10.2" lengthAdjust="spacing">20</text>
<line x1="133.3" y1="532" x2="135.8" y2="532" stroke-width="1.1"/>
<text x="131.2" y="535.2" font-size="9" font-weight="bold" text-anchor="end" textLength="10.2" lengthAdjust="spacing">22</text>
<line x1="133.3" y1="507.9" x2="135.8" y2="507.9" stroke-width="1.1"/>
<text x="131.2" y="511.1" font-size="9" font-weight="bold" text-anchor="end" textLength="10.2" lengthAdjust="spacing">24</text>
<line x1="133.3" y1="483.8" x2="135.8" y2="483.8" stroke-width="1.1"/>
<text x="131.2" y="487" font-size="9" font-weight="bold" text-anchor="end" textLength="10.2" lengthAdjust="spacing">26</text>
<line x1="133.3" y1="459.7" x2="135.8" y2="459.7" stroke-width="1.1"/>
<text x="131.2" y="462.9" font-size="9" font-weight="bold" text-anchor="end" textLength="10.2" lengthAdjust="spacing">28</text>
<line x1="133.3" y1="435.6" x2="135.8" y2="435.6" stroke-width="1.1"/>
<text x="131.2" y="438.8" font-size="9" font-weight="bold" text-anchor="end" textLength="10.2" lengthAdjust="spacing">30</text>
<line x1="134.5" y1="544.05" x2="135.8" y2="544.05" stroke-width="1.1"/>
<line x1="134.5" y1="519.95" x2="135.8" y2="519.95" stroke-width="1.1"/>
<line x1="134.5" y1="495.85" x2="135.8" y2="495.85" stroke-width="1.1"/>
<line x1="134.5" y1="471.75" x2="135.8" y2="471.75" stroke-width="1.1"/>
<line x1="134.5" y1="447.65" x2="135.8" y2="447.65" stroke-width="1.1"/>
<line x1="133.5" y1="557.9" x2="138.2" y2="555.8" stroke-width="0.9"/>
<line x1="133.5" y1="560.3" x2="138.2" y2="558.2" stroke-width="0.9"/>
<line x1="133.3" y1="563.5" x2="135.8" y2="563.5" stroke-width="1.1"/>
<text x="131.2" y="566.7" font-size="9" font-weight="bold" text-anchor="end" textLength="5" lengthAdjust="spacing">0</text>
<line x1="135.8" y1="563.5" x2="140.6" y2="563.5" stroke-width="1.1"/>
<line x1="145.6" y1="563.5" x2="299.2" y2="563.5" stroke-width="1.1"/>
<line x1="139.8" y1="566.2" x2="143" y2="561" stroke-width="0.9"/>
<line x1="143" y1="566.2" x2="146.2" y2="561" stroke-width="0.9"/>
<line x1="146.2" y1="563.5" x2="146.2" y2="566.5" stroke-width="1.1"/>
<line x1="173.95" y1="563.5" x2="173.95" y2="566.5" stroke-width="1.1"/>
<line x1="201.7" y1="563.5" x2="201.7" y2="566.5" stroke-width="1.1"/>
<line x1="229.45" y1="563.5" x2="229.45" y2="566.5" stroke-width="1.1"/>
<line x1="257.2" y1="563.5" x2="257.2" y2="566.5" stroke-width="1.1"/>
<line x1="284.95" y1="563.5" x2="284.95" y2="566.5" stroke-width="1.1"/>
<line x1="160.07" y1="563.5" x2="160.07" y2="565.5" stroke-width="1.1"/>
<line x1="187.82" y1="563.5" x2="187.82" y2="565.5" stroke-width="1.1"/>
<line x1="215.57" y1="563.5" x2="215.57" y2="565.5" stroke-width="1.1"/>
<line x1="243.32" y1="563.5" x2="243.32" y2="565.5" stroke-width="1.1"/>
<line x1="271.07" y1="563.5" x2="271.07" y2="565.5" stroke-width="1.1"/>
<line x1="298.82" y1="563.5" x2="298.82" y2="565.5" stroke-width="1.1"/>
<text x="135.6" y="575" font-size="9" font-weight="bold" text-anchor="middle" textLength="5" lengthAdjust="spacing">0</text>
<text x="146.2" y="575" font-size="9" font-weight="bold" text-anchor="middle" textLength="10" lengthAdjust="spacing">10</text>
<text x="173.95" y="575" font-size="9" font-weight="bold" text-anchor="middle" textLength="10" lengthAdjust="spacing">15</text>
<text x="201.7" y="575" font-size="9" font-weight="bold" text-anchor="middle" textLength="10" lengthAdjust="spacing">20</text>
<text x="229.45" y="575" font-size="9" font-weight="bold" text-anchor="middle" textLength="10" lengthAdjust="spacing">25</text>
<text x="257.2" y="575" font-size="9" font-weight="bold" text-anchor="middle" textLength="10" lengthAdjust="spacing">30</text>
<text x="284.95" y="575" font-size="9" font-weight="bold" text-anchor="middle" textLength="10" lengthAdjust="spacing">35</text>
<text x="147.1" y="584.6" font-size="9.4" font-weight="bold" textLength="128" lengthAdjust="spacing">Time (days post-inoculation)</text>
<text transform="translate(111.4,550.3) rotate(-90)" font-size="9.4" font-weight="bold" textLength="95" lengthAdjust="spacing">Body Weight (grams)</text>
<polyline points="151.4,485.8 173.6,479.5 190.4,472.6 212.5,471.3 228.8,468.6 251,468.6 267.7,470.3 284.6,474.2" fill="none" stroke-width="1.2"/>
<rect x="149.2" y="483.6" width="4.4" height="4.4" fill="#fff" stroke-width="1.2"/>
<rect x="171.4" y="477.3" width="4.4" height="4.4" fill="#fff" stroke-width="1.2"/>
<rect x="188.2" y="470.4" width="4.4" height="4.4" fill="#fff" stroke-width="1.2"/>
<rect x="210.3" y="469.1" width="4.4" height="4.4" fill="#fff" stroke-width="1.2"/>
<rect x="226.6" y="466.4" width="4.4" height="4.4" fill="#fff" stroke-width="1.2"/>
<rect x="248.8" y="466.4" width="4.4" height="4.4" fill="#fff" stroke-width="1.2"/>
<rect x="265.5" y="468.1" width="4.4" height="4.4" fill="#fff" stroke-width="1.2"/>
<rect x="282.4" y="472" width="4.4" height="4.4" fill="#fff" stroke-width="1.2"/>
<polyline points="151.4,490.5 173.6,483.3 190.4,477.8 212.5,478.7 228.8,477.7 251,477.7 267.7,477.7 284.6,479.2" fill="none" stroke-width="1.2"/>
<circle cx="151.4" cy="490.5" r="2.5" fill="#000" stroke="none"/>
<circle cx="173.6" cy="483.3" r="2.5" fill="#000" stroke="none"/>
<circle cx="190.4" cy="477.8" r="2.5" fill="#000" stroke="none"/>
<circle cx="212.5" cy="478.7" r="2.5" fill="#000" stroke="none"/>
<circle cx="228.8" cy="477.7" r="2.5" fill="#000" stroke="none"/>
<circle cx="251" cy="477.7" r="2.5" fill="#000" stroke="none"/>
<circle cx="267.7" cy="477.7" r="2.5" fill="#000" stroke="none"/>
<circle cx="284.6" cy="479.2" r="2.5" fill="#000" stroke="none"/>
<polyline points="151.4,494.3 173.6,490.6 190.4,484.3 212.5,488.6 228.8,485.2 251,488.3 267.7,485.4 284.6,490.6" fill="none" stroke-width="1.2"/>
<polygon points="151.4,490.82 154.65,496.62 148.15,496.62" fill="#000" stroke="none"/>
<polygon points="173.6,487.12 176.85,492.92 170.35,492.92" fill="#000" stroke="none"/>
<polygon points="190.4,480.82 193.65,486.62 187.15,486.62" fill="#000" stroke="none"/>
<polygon points="212.5,485.12 215.75,490.92 209.25,490.92" fill="#000" stroke="none"/>
<polygon points="228.8,481.72 232.05,487.52 225.55,487.52" fill="#000" stroke="none"/>
<polygon points="251,484.82 254.25,490.62 247.75,490.62" fill="#000" stroke="none"/>
<polygon points="267.7,481.92 270.95,487.72 264.45,487.72" fill="#000" stroke="none"/>
<polygon points="284.6,487.12 287.85,492.92 281.35,492.92" fill="#000" stroke="none"/>
<polyline points="151.4,489.5 173.6,479.5 190.4,475 212.5,472.8 228.8,473 251,471.8 267.7,470.5 284.6,474.2" fill="none" stroke-width="1.2"/>
<polygon points="151.4,492.62 154.4,487.42 148.4,487.42" fill="#000" stroke="none"/>
<polygon points="173.6,482.62 176.6,477.42 170.6,477.42" fill="#000" stroke="none"/>
<polygon points="190.4,478.12 193.4,472.92 187.4,472.92" fill="#000" stroke="none"/>
<polygon points="212.5,475.92 215.5,470.72 209.5,470.72" fill="#000" stroke="none"/>
<polygon points="228.8,476.12 231.8,470.92 225.8,470.92" fill="#000" stroke="none"/>
<polygon points="251,474.92 254,469.72 248,469.72" fill="#000" stroke="none"/>
<polygon points="267.7,473.62 270.7,468.42 264.7,468.42" fill="#000" stroke="none"/>
<polygon points="284.6,477.32 287.6,472.12 281.6,472.12" fill="#000" stroke="none"/>
<rect x="158.1" y="504.2" width="90.9" height="53.6" fill="#fff" stroke-width="1.2"/>
<line x1="165" y1="513.3" x2="173.6" y2="513.3" stroke-width="1.1"/>
<line x1="180.3" y1="513.3" x2="188.7" y2="513.3" stroke-width="1.1"/>
<line x1="165" y1="525.6" x2="173.6" y2="525.6" stroke-width="1.1"/>
<line x1="180.3" y1="525.6" x2="188.7" y2="525.6" stroke-width="1.1"/>
<line x1="165" y1="538.2" x2="173.6" y2="538.2" stroke-width="1.1"/>
<line x1="180.3" y1="538.2" x2="188.7" y2="538.2" stroke-width="1.1"/>
<line x1="165" y1="550.3" x2="173.6" y2="550.3" stroke-width="1.1"/>
<line x1="180.3" y1="550.3" x2="188.7" y2="550.3" stroke-width="1.1"/>
<rect x="175.05" y="511.45" width="3.7" height="3.7" fill="#fff" stroke-width="1.1"/>
<circle cx="176.9" cy="525.6" r="2.4" fill="#000" stroke="none"/>
<polygon points="176.9,534.84 180.2,540.44 173.6,540.44" fill="#000" stroke="none"/>
<polygon points="176.9,553.66 180.2,548.06 173.6,548.06" fill="#000" stroke="none"/>
<text x="191.7" y="516.6" font-size="9.4" font-weight="normal" textLength="29.7" lengthAdjust="spacing">vehicle</text>
<text x="191.7" y="528.9" font-size="9.4" font-weight="normal">anginex</text>
<text x="191.7" y="541.5" font-size="9.4" font-weight="normal" textLength="45.8" lengthAdjust="spacing">angiostatin</text>
<text x="191.7" y="553.6" font-size="9.4" font-weight="normal" textLength="50.7" lengthAdjust="spacing">combination</text>
</svg>
</body></html>
